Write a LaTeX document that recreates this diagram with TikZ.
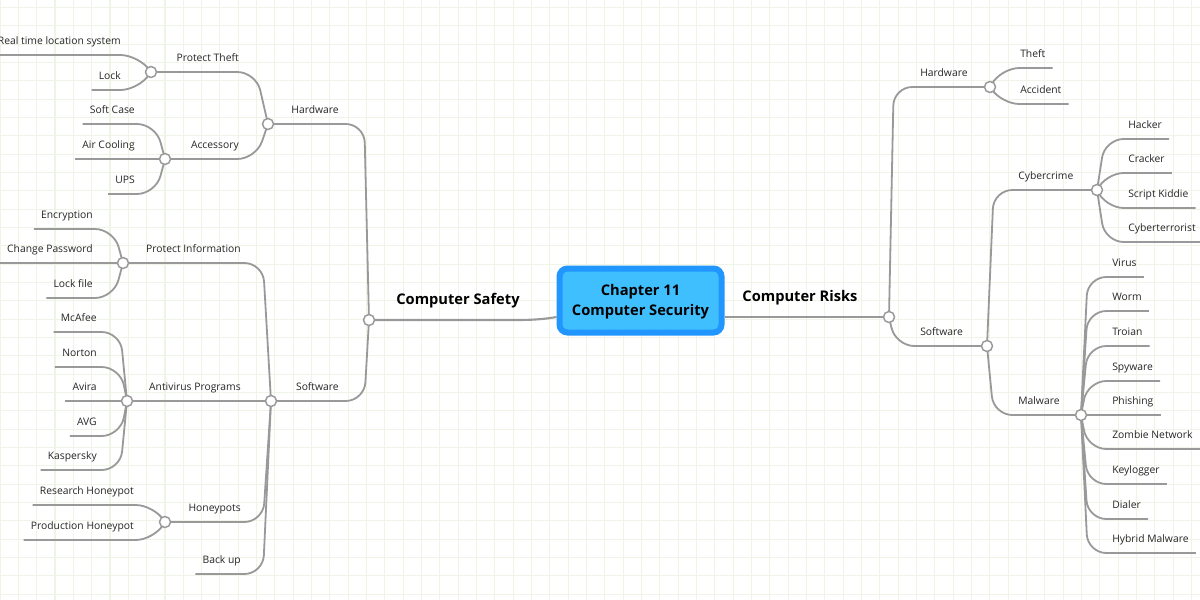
\documentclass[tikz,border=0pt]{standalone}
\usepackage{fontspec}
\setmainfont{Open Sans}
\usetikzlibrary{backgrounds}
\definecolor{gridline}{HTML}{EEF4E6}
\definecolor{linkgray}{HTML}{999999}
\definecolor{boxblue}{HTML}{40BFFF}
\definecolor{boxedge}{HTML}{2196FF}
\tikzset{
	lab/.style={inner xsep=5.25pt,inner ysep=7.9pt,text depth=0pt,font=\fontsize{7.75}{10}\selectfont,text=black!85},
	labl/.style={lab,anchor=south east},
	labr/.style={lab,anchor=south west},
	dot/.style={circle,draw=linkgray,fill=white,line width=1.1pt,inner sep=0pt,minimum size=8.25pt},
	link/.style={draw=linkgray,line width=1.35pt,rounded corners=14pt},
	main/.style={font=\fontsize{11}{14}\selectfont\bfseries,text=black,inner sep=0pt}
}
% parent, label, end of the line, shift of the corner
\newcommand{\branch}[4]{\draw[link] (#1.center) -- ([xshift=#4]#2.south -| #1) -- (#3)}
\begin{document}
\begin{tikzpicture}[x=0.75pt,y=-0.75pt]
	\useasboundingbox (0,0) rectangle (1200,600);

	% centre
	\node[draw=boxedge,fill=boxblue,line width=4.5pt,rounded corners=6pt,minimum width=121.5pt,minimum height=48pt,
		align=center,text height=24.7pt,font=\fontsize{11}{15}\selectfont\bfseries] (chapter) at (640.5,300.5) {Chapter 11\\Computer Security};

	% left side
	\node[dot] (jsafety) at (369,320) {};
	\node[dot] (jhard) at (268,124) {};
	\node[dot] (jsoft) at (271,401) {};
	\node[dot] (jtheft) at (151,72) {};
	\node[dot] (jaccess) at (165,159) {};
	\node[dot] (jinfo) at (123,263) {};
	\node[dot] (jvirus) at (127,401) {};
	\node[dot] (jhoney) at (165,522) {};

	\node[main] (safety) at (458,301) {Computer Safety};
	\node[labl] (hard) at (346,124) {Hardware};
	\node[labl] (soft) at (346,401) {Software};
	\node[labl] (theft) at (246,72) {Protect Theft};
	\node[labl] (access) at (246,159) {Accessory};
	\node[labl] (rtls) at (128,55) {Real time location system};
	\node[labl] (lock) at (128,90) {Lock};
	\node[labl] (softcase) at (142,124) {Soft Case};
	\node[labl] (cooling) at (142,159) {Air Cooling};
	\node[labl] (ups) at (142,194) {UPS};
	\node[labl] (info) at (248,263) {Protect Information};
	\node[labl] (anti) at (248,401) {Antivirus Programs};
	\node[labl] (honey) at (248,522) {Honeypots};
	\node[labl] (backup) at (248,574) {Back up};
	\node[labl] (encrypt) at (100,229) {Encryption};
	\node[labl] (password) at (100,263) {Change Password};
	\node[labl] (lockfile) at (100,298) {Lock file};
	\node[labl] (mcafee) at (104,332) {McAfee};
	\node[labl] (norton) at (104,367) {Norton};
	\node[labl] (avira) at (104,401) {Avira};
	\node[labl] (avg) at (104,436) {AVG};
	\node[labl] (kaspersky) at (104,470) {Kaspersky};
	\node[labl] (research) at (141,505) {Research Honeypot};
	\node[labl] (production) at (141,540) {Production Honeypot};

	% right side
	\node[dot] (jrisk) at (889,317) {};
	\node[dot] (jrhard) at (990,87) {};
	\node[dot] (jrsoft) at (987,346) {};
	\node[dot] (jcyber) at (1097,190) {};
	\node[dot] (jmal) at (1081,415) {};

	\node[main] (risk) at (800,298) {Computer Risks};
	\node[labr] (rhard) at (913,87) {Hardware};
	\node[labr] (rsoft) at (913,346) {Software};
	\node[labr] (stolen) at (1013,68) {Theft};
	\node[labr] (accident) at (1013,104) {Accident};
	\node[labr] (cyber) at (1011,190) {Cybercrime};
	\node[labr] (mal) at (1011,415) {Malware};
	\node[labr] (hacker) at (1121,139) {Hacker};
	\node[labr] (cracker) at (1121,173) {Cracker};
	\node[labr] (kiddie) at (1121,208) {Script Kiddie};
	\node[labr] (terror) at (1121,242) {Cyberterrorist};
	\node[labr] (virus) at (1105,277) {Virus};
	\node[labr] (worm) at (1105,311) {Worm};
	\node[labr] (troian) at (1105,346) {Troian};
	\node[labr] (spyware) at (1105,381) {Spyware};
	\node[labr] (phishing) at (1105,415) {Phishing};
	\node[labr] (zombie) at (1105,449) {Zombie Network};
	\node[labr] (keylog) at (1105,484) {Keylogger};
	\node[labr] (dialer) at (1105,519) {Dialer};
	\node[labr] (hybrid) at (1105,553) {Hybrid Malware};

	\begin{scope}[on background layer]
		\fill[white] (0,0) rectangle (1200,600);
		\foreach \k in {0,...,65}
			\draw[gridline,line width=0.8pt] ({\k*18.33},0) -- ({\k*18.33},600);
		\foreach \k in {0,...,32}
			\draw[gridline,line width=0.8pt] (0,{\k*18.33+7.5}) -- (1200,{\k*18.33+7.5});

		% connectors
		\draw[link,rounded corners=0pt,line width=1.6pt] (jsafety.center) -- (515,320) .. controls (535,320) and (545,319) .. (chapter.west |- jrisk);
		\draw[link,line width=1.6pt] (chapter.east |- jrisk) -- (jrisk);
		\branch{jsafety}{hard}{jhard}{-3.5pt};
		\branch{jsafety}{soft}{jsoft}{-3.5pt};
		\branch{jhard}{theft}{jtheft}{-9pt};
		\branch{jhard}{access}{jaccess}{-9pt};
		\foreach \n in {rtls,lock} \branch{jtheft}{\n}{\n.south west}{-9pt};
		\foreach \n in {softcase,cooling,ups} \branch{jaccess}{\n}{\n.south west}{-7pt};
		\branch{jsoft}{info}{jinfo}{-6pt};
		\branch{jsoft}{anti}{jvirus}{-6pt};
		\branch{jsoft}{honey}{jhoney}{-6pt};
		\branch{jsoft}{backup}{backup.south west}{-6pt};
		\foreach \n in {encrypt,password,lockfile} \branch{jinfo}{\n}{\n.south west}{-7pt};
		\foreach \n in {mcafee,norton,avira,avg,kaspersky} \branch{jvirus}{\n}{\n.south west}{-5pt};
		\foreach \n in {research,production} \branch{jhoney}{\n}{\n.south west}{-8pt};

		\branch{jrisk}{rhard}{jrhard}{3.5pt};
		\branch{jrisk}{rsoft}{jrsoft}{5pt};
		\foreach \n in {stolen,accident} \branch{jrhard}{\n}{\n.south east}{8pt};
		\branch{jrsoft}{cyber}{jcyber}{5pt};
		\branch{jrsoft}{mal}{jmal}{5pt};
		\foreach \n in {hacker,cracker,kiddie,terror} \branch{jcyber}{\n}{\n.south east}{6pt};
		\foreach \n in {virus,worm,troian,spyware,phishing,zombie,keylog,dialer,hybrid} \branch{jmal}{\n}{\n.south east}{5pt};
	\end{scope}
\end{tikzpicture}
\end{document}
